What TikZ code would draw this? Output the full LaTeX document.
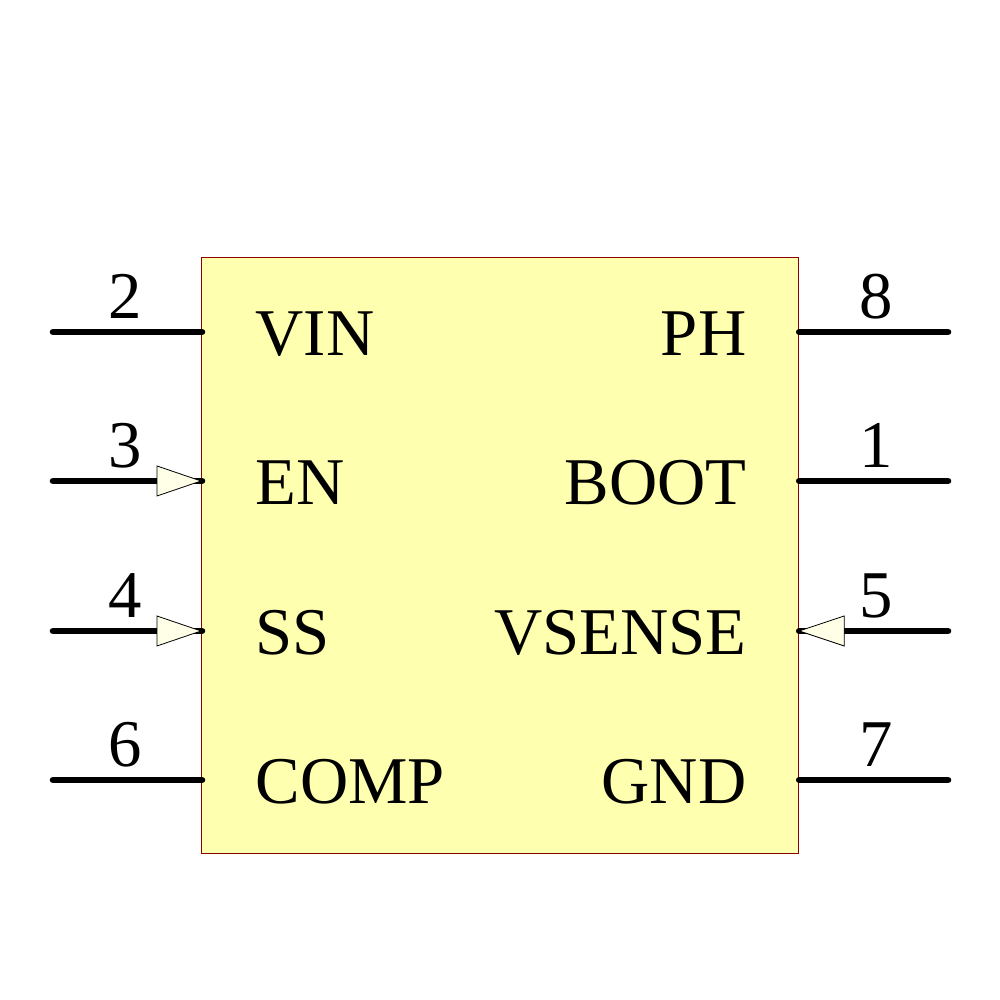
\documentclass[tikz,border=0pt]{standalone}
\usepackage{fontspec}
\setmainfont{Liberation Serif}
\usetikzlibrary{calc}
\definecolor{ChipFill}{HTML}{FFFFB0}
\definecolor{ChipLine}{HTML}{8B0000}
\definecolor{TipFill}{HTML}{FFFFE8}
\tikzset{
  chipbox/.style={draw=ChipLine,fill=ChipFill,line width=0.12mm,minimum width=5.97cm,minimum height=5.96cm,inner sep=0pt,anchor=south west},
  pinline/.style={line width=0.66mm,black,line cap=round},
  pintip/.style={draw=black,fill=TipFill,line width=0.08mm,line join=miter},
  pinnum/.style={font=\fontsize{19}{20}\selectfont,anchor=base,inner sep=0pt},
  pinname/.style={font=\fontsize{19}{20}\selectfont,inner sep=0pt}
}
\begin{document}
\begin{tikzpicture}
  \useasboundingbox (0,0) rectangle (10,10);
  \fill[white] (0,0) rectangle (10,10);

  \node [chipbox] (Chip) at (2.01,1.46) {};

  % left side pins
  \foreach \num/\name/\y in {2/VIN/6.68,3/EN/5.19,4/SS/3.69,6/COMP/2.20}{%
    \coordinate (Pin\num) at (0.53,\y);
    \coordinate (End\num) at (Chip.west |- Pin\num);
    \draw [pinline] (Pin\num) -- ($(End\num)+(0.01,0)$);
    \node [pinnum] (Num\num) at (1.25,\y+0.13) {\num};
    \node [pinname,anchor=base west] (Name\num) at (2.55,\y-0.24) {\name};
  }

  % right side pins
  \foreach \num/\name/\y in {8/PH/6.68,1/BOOT/5.19,5/VSENSE/3.69,7/GND/2.20}{%
    \coordinate (Pin\num) at (9.48,\y);
    \coordinate (End\num) at (Chip.east |- Pin\num);
    \draw [pinline] (Pin\num) -- (End\num);
    \node [pinnum] (Num\num) at (8.76,\y+0.13) {\num};
    \node [pinname,anchor=base east] (Name\num) at (7.47,\y-0.24) {\name};
  }

  \foreach \num in {3,4}{%
    \draw [pintip] ($(End\num)+(-0.44,0.15)$) -- (End\num)
      -- ($(End\num)+(-0.44,-0.15)$) -- cycle;
  }
  \draw [pintip] ($(End5)+(0.45,0.15)$) -- (End5)
    -- ($(End5)+(0.45,-0.15)$) -- cycle;
\end{tikzpicture}
\end{document}
